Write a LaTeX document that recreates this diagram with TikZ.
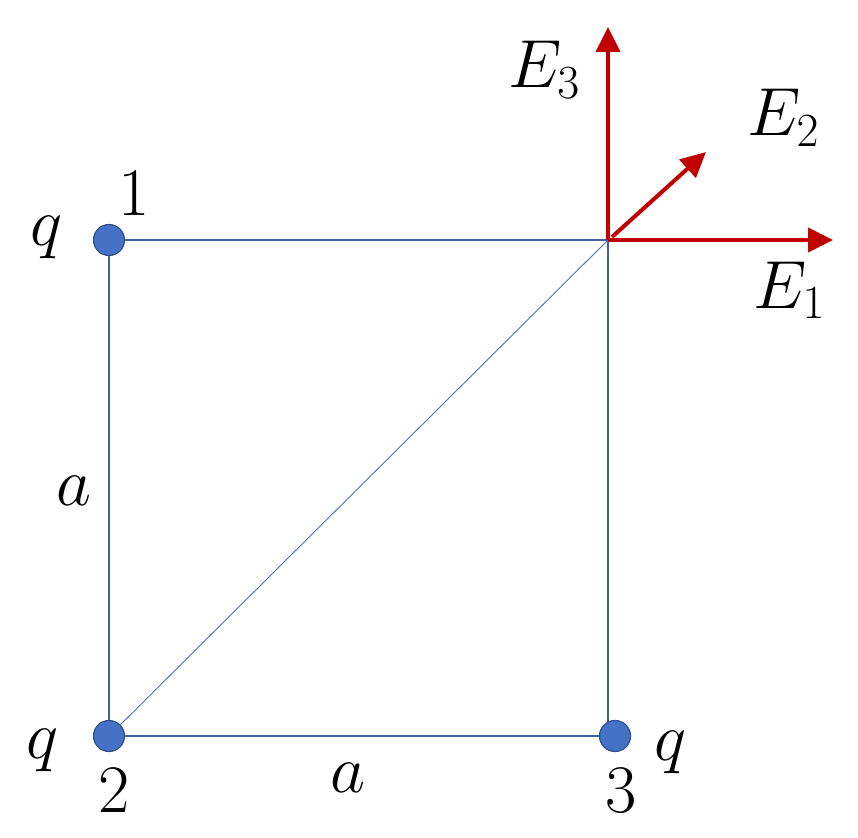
\RequirePackage{fix-cm}
\documentclass[tikz,border=0pt]{standalone}
\usetikzlibrary{arrows.meta}
\definecolor{dotfill}{HTML}{4472C4}
\definecolor{dotedge}{HTML}{2F528F}
\definecolor{sqline}{HTML}{41619C}
\definecolor{diag}{HTML}{4472C4}
\definecolor{fieldred}{HTML}{C00000}
\tikzset{
  charge/.style={circle, fill=dotfill, draw=dotedge, line width=1.2pt, minimum size=31pt, inner sep=0pt},
  side/.style={draw=sqline, line width=1.8pt},
  diagline/.style={draw=diag, line width=0.9pt},
  field/.style={draw=fieldred, line width=4pt, -{Triangle[length=25pt,width=24pt]}},
  lbl/.style={inner sep=0pt, font=\fontsize{68}{80}\selectfont},
}
\begin{document}
\begin{tikzpicture}[x=1pt,y=-1pt]
\useasboundingbox (0,0) rectangle (858,837);
\coordinate (p1) at (109,240);
\coordinate (p2) at (109,736);
\coordinate (p3) at (615,736);
\coordinate (P) at (608,240);
\coordinate (Q) at (608,736);
\coordinate (e1) at (833,240);
\coordinate (e2) at (706,152);
\coordinate (e3) at (608,27);
% square and diagonal
\draw[side] (p1) -- (P) -- (Q);
\draw[side] (p1) -- (p2) -- (p3);
\draw[diagline] (p2) -- (P);
% field arrows
\draw[field] (P) -- (e3);
\draw[field] (P) -- (e1);
\draw[field] (P) ++(4,-3) coordinate (Ps) (Ps) -- (e2);
% charges
\node[charge] (c1) at (p1) {};
\node[charge] (c2) at (p2) {};
\node[charge] (c3) at (p3) {};
% labels
\node[lbl, anchor=base] (q1) at (46,245) {$q$};
\node[lbl, anchor=base] (n1) at (134,215) {$1$};
\node[lbl, anchor=base] (q2) at (42,758) {$q$};
\node[lbl, anchor=base] (n2) at (114,812) {$2$};
\node[lbl, anchor=base] (q3) at (670,760) {$q$};
\node[lbl, anchor=base] (n3) at (621,812) {$3$};
\node[lbl, anchor=base] (a1) at (74,505) {$a$};
\node[lbl, anchor=base] (a2) at (348,792) {$a$};
\node[lbl, anchor=base west] (E3) at (508,88) {$E_3$};
\node[lbl, anchor=base west] (E2) at (747,136) {$E_2$};
\node[lbl, anchor=base west] (E1) at (753,308) {$E_1$};
\end{tikzpicture}
\end{document}
